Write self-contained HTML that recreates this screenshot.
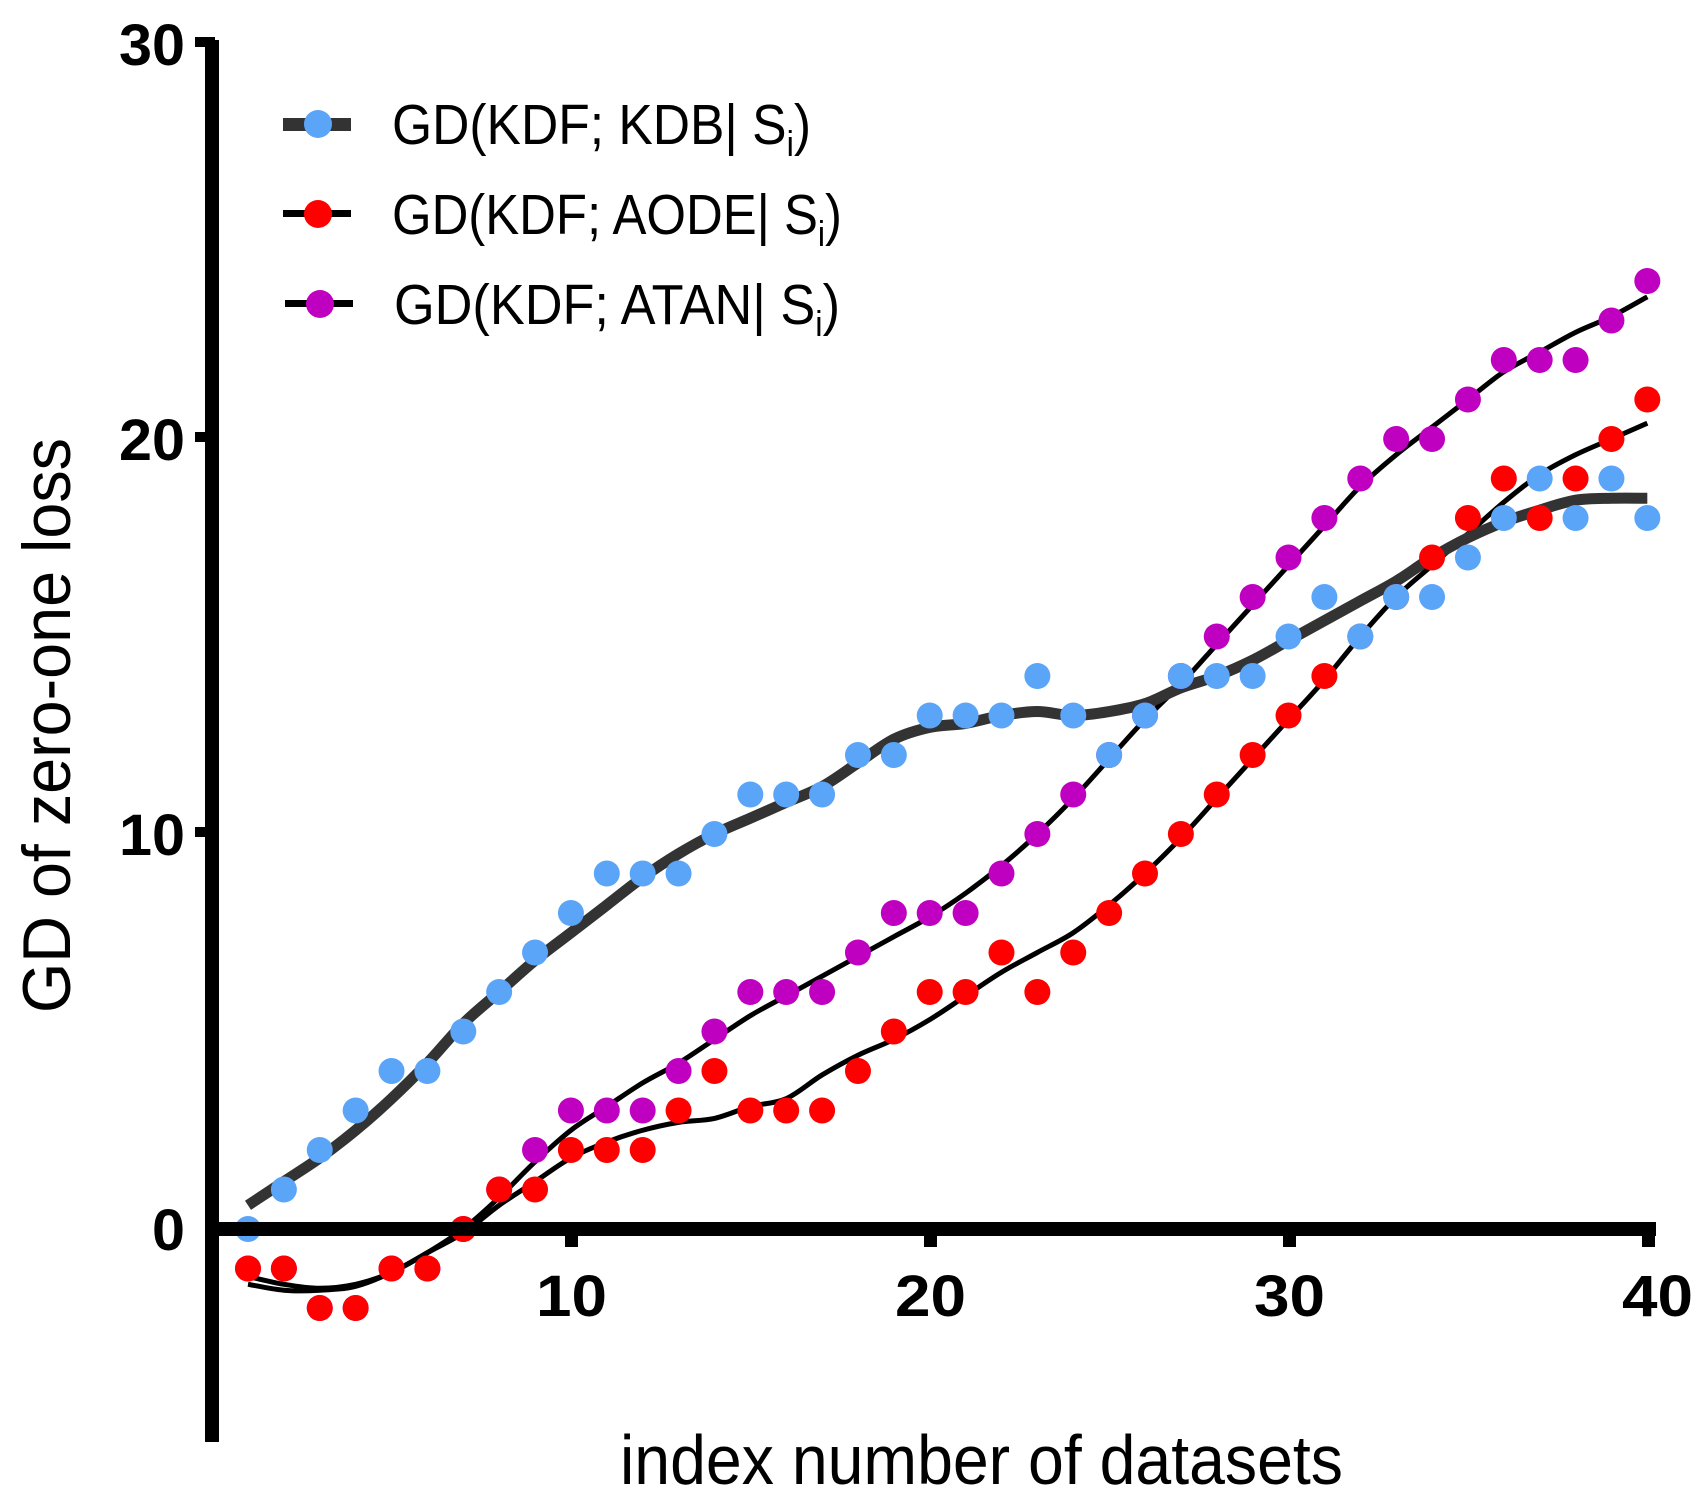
<!DOCTYPE html>
<html><head><meta charset="utf-8"><style>
html,body{margin:0;padding:0;background:#fff;}
svg{display:block;}
text{font-family:"Liberation Sans",Arial,sans-serif;}
</style></head><body>
<svg id="s" width="1705" height="1511" viewBox="0 0 1705 1511" xmlns="http://www.w3.org/2000/svg">
<g id="curves"></g>
<g id="dots"></g>
<!-- axes -->
<rect x="205" y="40" width="14" height="1402" fill="#000"/>
<rect x="205" y="1222" width="1451" height="14" fill="#000"/>
<rect x="195" y="37" width="20" height="10" fill="#000"/>
<rect x="195" y="432" width="20" height="10" fill="#000"/>
<rect x="195" y="827" width="20" height="10" fill="#000"/>
<rect x="565" y="1230" width="13" height="17" fill="#000"/>
<rect x="924" y="1230" width="13" height="17" fill="#000"/>
<rect x="1283" y="1230" width="13" height="17" fill="#000"/>
<rect x="1642" y="1230" width="13" height="17" fill="#000"/>
<g font-weight="bold" font-size="58" fill="#000">
<text x="119" y="65" textLength="66" lengthAdjust="spacingAndGlyphs">30</text>
<text x="119" y="460" textLength="66" lengthAdjust="spacingAndGlyphs">20</text>
<text x="119" y="855" textLength="66" lengthAdjust="spacingAndGlyphs">10</text>
<text x="152" y="1250" textLength="33" lengthAdjust="spacingAndGlyphs">0</text>
<text x="536" y="1316" textLength="71" lengthAdjust="spacingAndGlyphs">10</text>
<text x="895" y="1316" textLength="71" lengthAdjust="spacingAndGlyphs">20</text>
<text x="1254" y="1316" textLength="71" lengthAdjust="spacingAndGlyphs">30</text>
<text x="1622" y="1316" textLength="71" lengthAdjust="spacingAndGlyphs">40</text>
</g>
<text x="620" y="1484" font-size="70" textLength="723" lengthAdjust="spacingAndGlyphs">index number of datasets</text>
<text transform="translate(70,1013) rotate(-90)" font-size="68" textLength="575" lengthAdjust="spacingAndGlyphs">GD of zero-one loss</text>
<!-- legend -->
<rect x="283" y="118" width="68" height="13" fill="#333"/>
<circle cx="318" cy="124" r="14" fill="#5aa5f8"/>
<text x="392" y="144" font-size="57" textLength="419" lengthAdjust="spacingAndGlyphs">GD(KDF; KDB| S<tspan font-size="36" dy="12">i</tspan><tspan dy="-12">)</tspan></text>
<rect x="283" y="210" width="68" height="7" fill="#000"/>
<circle cx="318" cy="214" r="14" fill="#ff0000"/>
<text x="392" y="234" font-size="57" textLength="450" lengthAdjust="spacingAndGlyphs">GD(KDF; AODE| S<tspan font-size="36" dy="12">i</tspan><tspan dy="-12">)</tspan></text>
<rect x="285" y="300" width="68" height="7" fill="#000"/>
<circle cx="320" cy="304" r="14" fill="#c000c0"/>
<text x="394" y="324" font-size="57" textLength="446" lengthAdjust="spacingAndGlyphs">GD(KDF; ATAN| S<tspan font-size="36" dy="12">i</tspan><tspan dy="-12">)</tspan></text>
</svg>
<script>
var X=function(i){return 248+(i-1)*35.88;},Y=function(v){return 1229-39.5*v;};
var blue=[0,1,2,3,4,4,5,6,7,8,9,9,9,10,11,11,11,12,12,13,13,13,14,13,12,13,14,14,14,15,16,15,16,16,17,18,19,18,19,18];
var red=[-1,-1,-2,-2,-1,-1,0,1,1,2,2,2,3,4,3,3,3,4,5,6,6,7,6,7,8,9,10,11,12,13,14,15,16,17,18,19,18,19,20,21];
var pur=[-1,-1,-2,-2,-1,-1,0,1,2,3,3,3,4,5,6,6,6,7,8,8,8,9,10,11,12,13,14,15,16,17,18,19,20,20,21,22,22,22,23,24];
var cb=[0.6,1.2,1.8,2.5,3.3,4.2,5.2,6.0,6.8,7.5,8.2,8.9,9.5,10.0,10.4,10.8,11.2,11.8,12.4,12.7,12.8,13.0,13.1,13.0,13.1,13.3,13.7,14.0,14.4,14.9,15.4,15.9,16.4,17.0,17.5,17.9,18.2,18.45,18.5,18.5];
var cr=[-1.4,-1.55,-1.55,-1.45,-1.1,-0.6,-0.1,0.6,1.2,1.8,2.2,2.5,2.7,2.8,3.1,3.3,3.9,4.4,4.8,5.3,5.9,6.5,7.0,7.5,8.2,9.0,9.9,10.9,11.9,12.9,13.9,15.0,16.0,16.8,17.6,18.4,19.1,19.6,20.0,20.4];
var cp=[-1.2,-1.4,-1.5,-1.4,-1.1,-0.6,0,0.8,1.7,2.5,3.1,3.7,4.2,4.8,5.4,5.9,6.4,6.9,7.4,7.9,8.5,9.2,10.0,10.9,11.9,12.9,13.8,14.8,15.8,16.8,17.8,18.8,19.6,20.3,21.0,21.7,22.2,22.7,23.1,23.6];
function path(a){var p=a.map(function(v,i){return [X(i+1),Y(v)];});var d="M"+p[0][0]+","+p[0][1];
for(var i=0;i<p.length-1;i++){var p0=p[i-1]||p[i],p1=p[i],p2=p[i+1],p3=p[i+2]||p2;
d+=" C"+(p1[0]+(p2[0]-p0[0])/6)+","+(p1[1]+(p2[1]-p0[1])/6)+" "+(p2[0]-(p3[0]-p1[0])/6)+","+(p2[1]-(p3[1]-p1[1])/6)+" "+p2[0]+","+p2[1];}return d;}
var NS="http://www.w3.org/2000/svg",g=document.getElementById("curves"),dg=document.getElementById("dots");
[[cp,"#000",5],[cr,"#000",5],[cb,"#333",11]].forEach(function(c){var e=document.createElementNS(NS,"path");e.setAttribute("d",path(c[0]));e.setAttribute("fill","none");e.setAttribute("stroke",c[1]);e.setAttribute("stroke-width",c[2]);g.appendChild(e);});
[[pur,"#c000c0"],[red,"#ff0000"],[blue,"#5aa5f8"]].forEach(function(s){s[0].forEach(function(v,i){var e=document.createElementNS(NS,"circle");e.setAttribute("cx",X(i+1));e.setAttribute("cy",Y(v));e.setAttribute("r",13);e.setAttribute("fill",s[1]);dg.appendChild(e);});});
</script>
</body></html>
